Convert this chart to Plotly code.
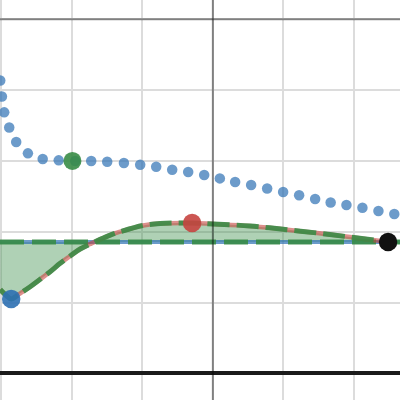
import plotly.graph_objects as go

# ---- data ----
# dotted blue curve (dot centres)
dots_x = [-3.017, -2.993, -2.960, -2.889, -2.790, -2.624, -2.414, -2.187, -1.953, -1.726,
          -1.499, -1.262, -1.031, -0.804, -0.577, -0.350, -0.123, 0.099, 0.316, 0.543,
          0.770, 0.997, 1.224, 1.451, 1.671, 1.895, 2.122, 2.349, 2.574]
dots_y = [4.136, 3.910, 3.686, 3.472, 3.267, 3.107, 3.027, 3.008, 2.999, 2.999,
          2.989, 2.970, 2.946, 2.918, 2.876, 2.843, 2.801, 2.753, 2.702, 2.659,
          2.611, 2.560, 2.515, 2.462, 2.412, 2.377, 2.338, 2.292, 2.250]

# green/red curve
curve_x = [-3.017, -2.932, -2.861, -2.733, -2.592, -2.450, -2.309, -2.166, -2.024, -1.883,
           -1.741, -1.599, -1.457, -1.316, -0.989, -0.748, -0.294, 0.004, 0.529, 0.997,
           1.479, 1.947, 2.486]
curve_y = [1.184, 1.099, 1.051, 1.130, 1.223, 1.328, 1.435, 1.554, 1.657, 1.756,
           1.826, 1.893, 1.953, 2.000, 2.088, 2.116, 2.123, 2.109, 2.081, 2.034,
           1.982, 1.925, 1.855]

# horizontal reference level
level_y = 1.855
x_range = [-3.02, 2.655]
y_range = [-0.377, 5.273]
upper_ref_y = 5
axis_ref_x = 0

# highlighted points
pt_blue = (-2.861, 1.051)
pt_red = (-0.294, 2.123)
pt_black = (2.486, 1.855)
pt_green = (-1.992, 3.0)

BLUE = "rgba(45,112,179,0.7)"
GREEN = "rgba(56,140,70,0.9)"
RED = "rgba(199,68,64,0.6)"
AXIS_GRAY = "rgba(0,0,0,0.42)"

fig = go.Figure()

# fill between level and curve
fig.add_trace(go.Scatter(x=[curve_x[0], curve_x[-1]], y=[level_y, level_y], mode="lines",
                         line=dict(width=0, color="rgba(0,0,0,0)"), hoverinfo="skip", showlegend=False))
fig.add_trace(go.Scatter(x=curve_x, y=curve_y, mode="lines", line=dict(width=0, shape="spline"),
                         fill="tonexty", fillcolor="rgba(56,140,70,0.4)", showlegend=False))

# horizontal level: blue under green dashed
fig.add_trace(go.Scatter(x=x_range, y=[level_y, level_y], mode="lines",
                         line=dict(color=BLUE, width=4), showlegend=False))
fig.add_trace(go.Scatter(x=x_range, y=[level_y, level_y], mode="lines",
                         line=dict(color=GREEN, width=5, dash="24px,8px"), showlegend=False))

# curve: red under green dashed
fig.add_trace(go.Scatter(x=curve_x, y=curve_y, mode="lines",
                         line=dict(color=RED, width=4.5, shape="spline"), showlegend=False))
fig.add_trace(go.Scatter(x=curve_x, y=curve_y, mode="lines",
                         line=dict(color=GREEN, width=5, shape="spline", dash="22px,7px"), showlegend=False))

# dotted blue curve
fig.add_trace(go.Scatter(x=dots_x, y=dots_y, mode="markers",
                         marker=dict(size=10.5, color=BLUE), showlegend=False))

# points
fig.add_trace(go.Scatter(x=[pt_green[0]], y=[pt_green[1]], mode="markers",
                         marker=dict(size=18, color="rgba(56,140,70,0.9)"), showlegend=False))
fig.add_trace(go.Scatter(x=[pt_blue[0]], y=[pt_blue[1]], mode="markers",
                         marker=dict(size=18.5, color="rgba(45,112,179,0.9)"), showlegend=False))
fig.add_trace(go.Scatter(x=[pt_red[0]], y=[pt_red[1]], mode="markers",
                         marker=dict(size=18.5, color="rgba(199,68,64,0.9)"), showlegend=False))
fig.add_trace(go.Scatter(x=[pt_black[0]], y=[pt_black[1]], mode="markers",
                         marker=dict(size=18.5, color="#111111"), showlegend=False))

# gray axis lines drawn above the traces
fig.add_shape(type="line", xref="paper", x0=0, x1=1, yref="y", y0=upper_ref_y, y1=upper_ref_y,
              line=dict(color=AXIS_GRAY, width=2), layer="above")
fig.add_shape(type="line", xref="x", x0=axis_ref_x, x1=axis_ref_x, yref="paper", y0=0, y1=1,
              line=dict(color=AXIS_GRAY, width=2), layer="above")

fig.update_layout(
    width=400, height=400, margin=dict(l=0, r=0, t=0, b=0),
    paper_bgcolor="white", plot_bgcolor="white",
    xaxis=dict(range=x_range, dtick=1, tick0=0, showgrid=True, gridcolor="#dcdcdc", gridwidth=1.5,
               zeroline=False,
               showticklabels=False, ticks="", showline=False, fixedrange=True),
    yaxis=dict(range=y_range, dtick=1, tick0=0, showgrid=True, gridcolor="#dcdcdc", gridwidth=1.5,
               zeroline=True, zerolinecolor="#1a1a1a", zerolinewidth=3.5,
               showticklabels=False, ticks="", showline=False, fixedrange=True),
)

fig.write_html("out.html", config={"displayModeBar": False},
               post_script="document.body.style.margin='0';document.body.style.overflow='hidden';")
